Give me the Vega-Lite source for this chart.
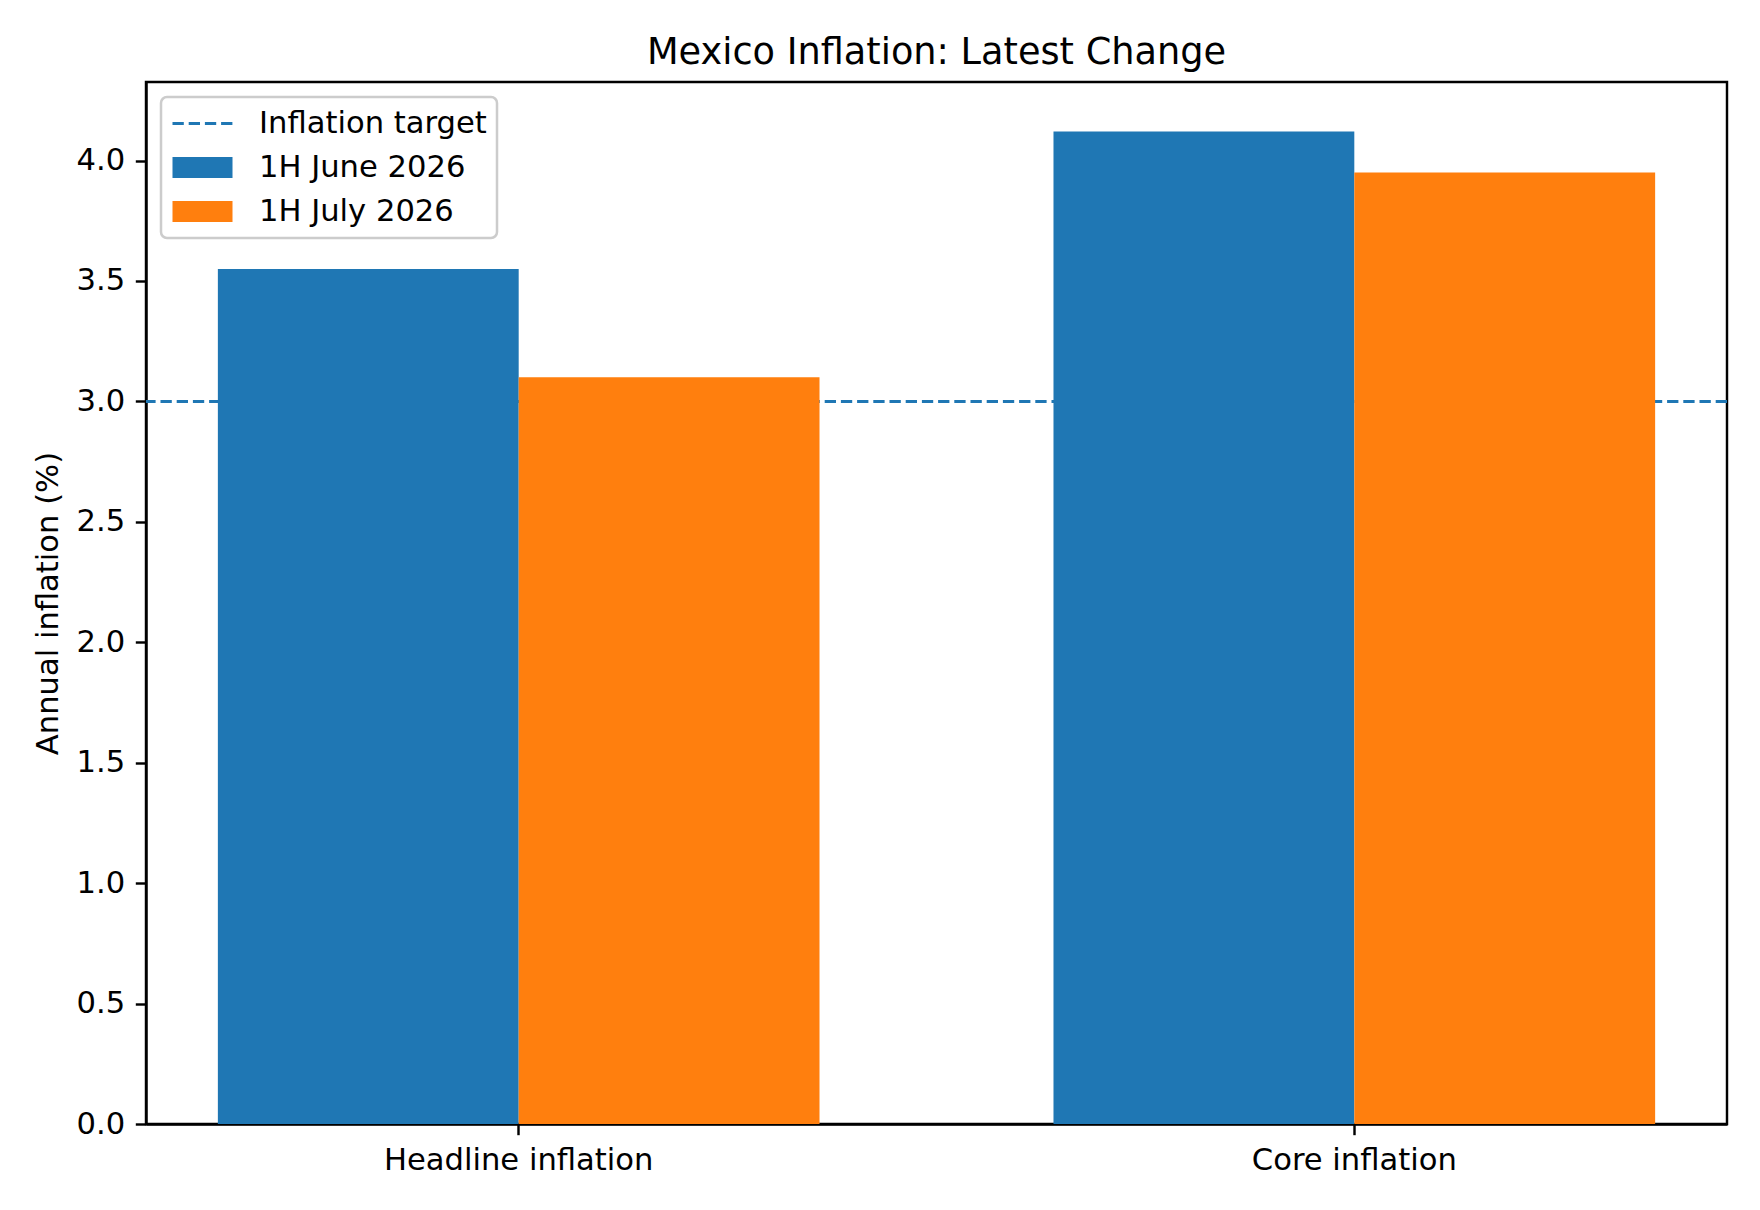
{
  "$schema": "https://vega.github.io/schema/vega-lite/v6.json",
  "autosize": {"type": "none"},
  "padding": {"left": 146, "top": 82, "right": 33, "bottom": 86},
  "width": 1581,
  "height": 1042,
  "background": "white",
  "title": {
    "text": "Mexico Inflation: Latest Change",
    "font": "DejaVu Sans",
    "fontSize": 36.7,
    "fontWeight": "normal",
    "color": "black",
    "anchor": "middle",
    "frame": "group",
    "baseline": "bottom",
    "offset": 10.6,
    "dy": 37
  },
  "layer": [
    {
      "data": {"values": [{"target": 3.0}]},
      "mark": {"type": "rule", "color": "#1f77b4", "strokeWidth": 3, "strokeDash": [11.3, 4.9]},
      "encoding": {
        "y": {"field": "target", "type": "quantitative", "scale": {"domain": [0, 4.326], "nice": false}}
      }
    },
    {
      "data": {
        "values": [
          {"measure": "Headline inflation", "period": "1H June 2026", "value": 3.55},
          {"measure": "Headline inflation", "period": "1H July 2026", "value": 3.10},
          {"measure": "Core inflation", "period": "1H June 2026", "value": 4.12},
          {"measure": "Core inflation", "period": "1H July 2026", "value": 3.95}
        ]
      },
      "mark": {"type": "bar"},
      "encoding": {
        "x": {
          "field": "measure",
          "type": "nominal",
          "sort": ["Headline inflation", "Core inflation"],
          "scale": {"paddingInner": 0.28, "paddingOuter": 0.086},
          "axis": {"title": null, "labelAngle": 0, "labelBaseline": "top", "labelLimit": 0}
        },
        "xOffset": {
          "field": "period",
          "type": "nominal",
          "sort": ["1H June 2026", "1H July 2026"],
          "scale": {"paddingInner": 0, "paddingOuter": 0}
        },
        "y": {
          "field": "value",
          "type": "quantitative",
          "scale": {"domain": [0, 4.326], "nice": false},
          "axis": {
            "title": "Annual inflation (%)",
            "values": [0, 0.5, 1, 1.5, 2, 2.5, 3, 3.5, 4],
            "format": ".1f",
            "titlePadding": 12
          }
        },
        "color": {
          "field": "period",
          "type": "nominal",
          "scale": {
            "domain": ["Inflation target", "1H June 2026", "1H July 2026"],
            "range": ["#1f77b4", "#1f77b4", "#ff7f0e"]
          },
          "legend": {
            "title": null,
            "orient": "none",
            "legendX": 15,
            "legendY": 15,
            "padding": 10,
            "rowPadding": 11,
            "symbolSize": 900,
            "labelOffset": 55,
            "labelLimit": 0,
            "labelFont": "DejaVu Sans",
            "labelFontSize": 30.6,
            "labelColor": "black",
            "strokeColor": "#cccccc",
            "fillColor": "rgba(255,255,255,0.8)",
            "cornerRadius": 6,
            "encode": {
              "legend": {"update": {"strokeWidth": {"value": 2.5}}},
              "symbols": {
                "update": {
                  "shape": {"signal": "datum.value === 'Inflation target' ? 'M-1,0H3' : 'M-1,-0.7H3V0.7H-1Z'"},
                  "fill": {"signal": "datum.value === '1H June 2026' ? '#1f77b4' : (datum.value === '1H July 2026' ? '#ff7f0e' : 'transparent')"},
                  "stroke": {"signal": "datum.value === 'Inflation target' ? '#1f77b4' : 'transparent'"},
                  "strokeWidth": {"value": 3},
                  "strokeDash": {"signal": "datum.value === 'Inflation target' ? [11.3, 4.9] : [1, 0]"},
                  "size": {"value": 900},
                  "opacity": {"value": 1}
                }
              }
            }
          }
        }
      }
    }
  ],
  "config": {
    "view": {"stroke": "black", "strokeWidth": 2.44},
    "axis": {
      "grid": false,
      "domainColor": "black",
      "domainWidth": 2.44,
      "tickColor": "black",
      "tickWidth": 2.44,
      "tickSize": 10.7,
      "labelPadding": 10.7,
      "labelFont": "DejaVu Sans",
      "labelFontSize": 30.6,
      "labelColor": "black",
      "titleFont": "DejaVu Sans",
      "titleFontSize": 30.6,
      "titleFontWeight": "normal",
      "titleColor": "black"
    }
  }
}
